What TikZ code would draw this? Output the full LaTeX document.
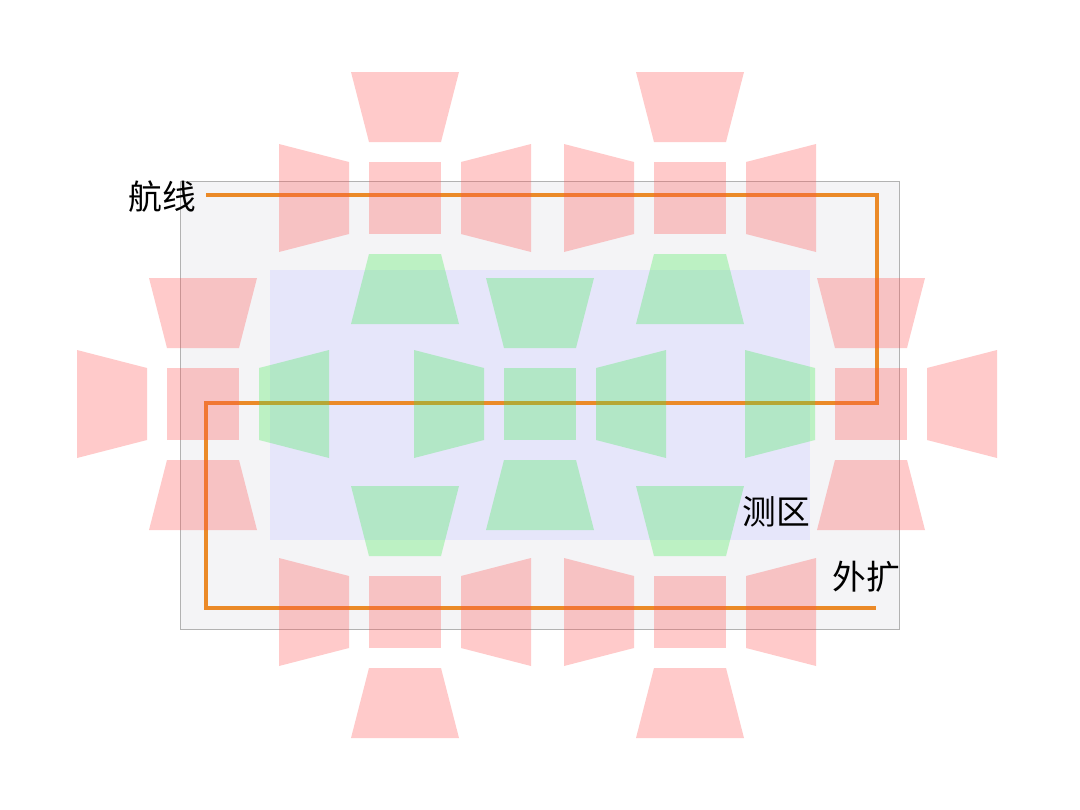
\documentclass[tikz,border=0pt]{standalone}
\usepackage{fontspec}
\newfontfamily\cjk{Noto Sans CJK SC}
\usepackage{tikz}
\definecolor{shotred}{RGB}{255,80,80}
\definecolor{shotgreen}{RGB}{60,235,80}
\definecolor{areablue}{RGB}{230,230,250}
\definecolor{buffergray}{RGB}{244,244,246}
\definecolor{routeorange}{RGB}{235,138,40}
\tikzset{
    x=0.025cm, y=-0.025cm, % one unit is one pixel, y runs downwards
    outshot/.style={fill=shotred, fill opacity=0.3}, % footprints outside the area
    inshot/.style={fill=shotgreen, fill opacity=0.3}, % footprints inside the area
    route/.style={draw=routeorange, line width=2.2pt, line join=miter}, % the flight line
    tag/.style={font=\cjk\fontsize{24}{24}\selectfont, inner sep=0pt}, % the labels
}
% one five-camera shot: x, y, square, top, right, bottom, left
\newcommand{\shot}[7]{%
    \begin{scope}[shift={(#1,#2)}]
        \fill[#3] (-36,-36) rectangle (36,36);
        \fill[#4] (-36,-56) -- (36,-56) -- (54,-126) -- (-54,-126) -- cycle;
        \fill[#5] (56,-36) -- (56,36) -- (126,54) -- (126,-54) -- cycle;
        \fill[#6] (-36,56) -- (36,56) -- (54,126) -- (-54,126) -- cycle;
        \fill[#7] (-56,-36) -- (-56,36) -- (-126,54) -- (-126,-54) -- cycle;
    \end{scope}}

\begin{document}
\begin{tikzpicture}
    \useasboundingbox (0,0) rectangle (1080,810);
    \filldraw[fill=buffergray, draw=gray!60, line width=0.5pt] (180,181) rectangle (899,629);
    \fill[areablue] (270,270) rectangle (810,540);
    \coordinate (r0) at (206,195);
    \coordinate (r1) at (877,195);
    \coordinate (r2) at (877,403);
    \coordinate (r3) at (206,403);
    \coordinate (r4) at (206,608);
    \coordinate (r5) at (876,608);
    \draw[route] (r0) -- (r1) -- (r2) -- (r3) -- (r4) -- (r5);
    \shot{405}{198}{outshot}{outshot}{outshot}{inshot}{outshot}
    \shot{690}{198}{outshot}{outshot}{outshot}{inshot}{outshot}
    \shot{203}{404}{outshot}{outshot}{inshot}{outshot}{outshot}
    \shot{540}{404}{inshot}{inshot}{inshot}{inshot}{inshot}
    \shot{871}{404}{outshot}{outshot}{outshot}{outshot}{inshot}
    \shot{405}{612}{outshot}{inshot}{outshot}{outshot}{outshot}
    \shot{690}{612}{outshot}{inshot}{outshot}{outshot}{outshot}
    \node[tag] (line) at (162,197) {航线};
    \node[tag] (area) at (776,512) {测区};
    \node[tag] (buffer) at (866,577) {外扩};
\end{tikzpicture}
\end{document}
